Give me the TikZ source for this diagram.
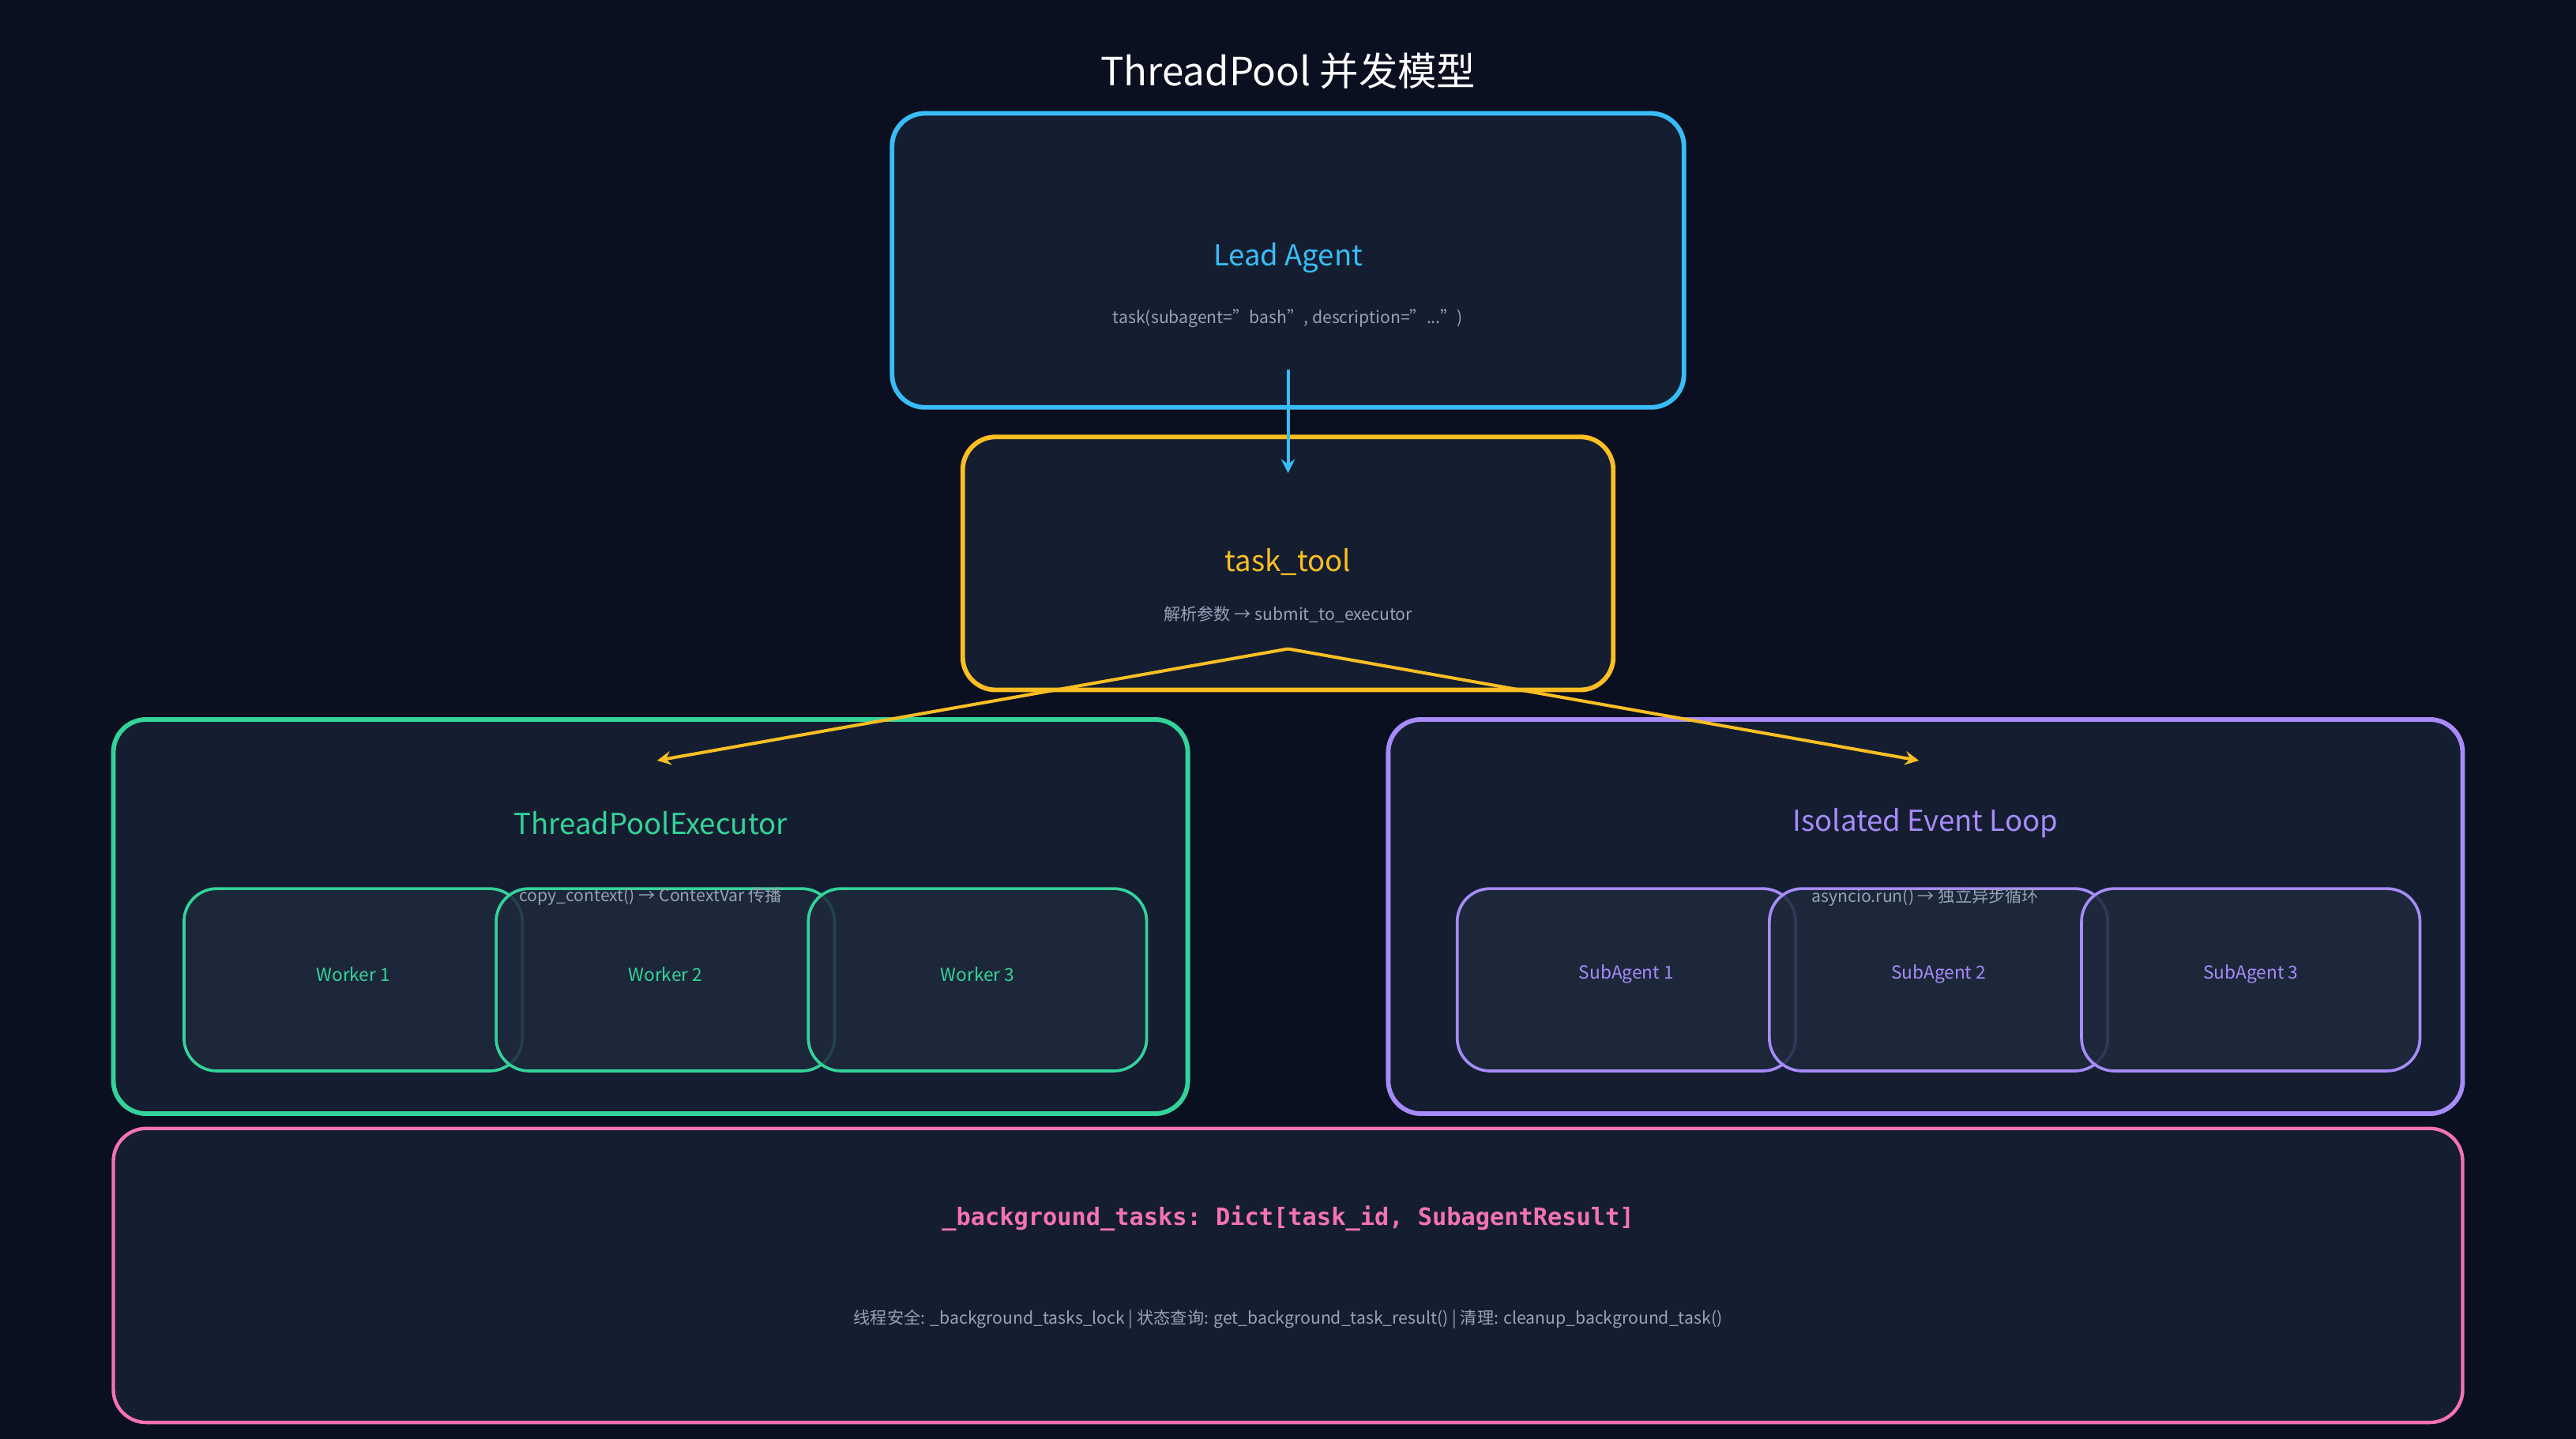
\documentclass[tikz,border=0pt]{standalone}
\usepackage{fontspec}
\setmainfont{Noto Sans CJK SC}
\setmonofont{DejaVu Sans Mono}
\usetikzlibrary{arrows,positioning}
\definecolor{bgdark}{HTML}{0B1020}
\definecolor{boxfill}{HTML}{151E30}
\definecolor{workfill}{HTML}{1E293B}
\definecolor{leadc}{HTML}{38BDF8}
\definecolor{toolc}{HTML}{FBBF24}
\definecolor{poolc}{HTML}{34D399}
\definecolor{loopc}{HTML}{A78BFA}
\definecolor{storec}{HTML}{F472B6}
\definecolor{subtxt}{HTML}{94A3B8}
\begin{document}
\begin{tikzpicture}
[x=0.02cm, y=-0.02cm, >=stealth, semithick,
box/.style={line width=1.6pt, fill=boxfill, rounded corners=0.4cm},
worker/.style={line width=1pt, fill=workfill, fill opacity=0.85, rounded corners=0.4cm},
title/.style={font=\fontsize{10}{12}\selectfont},
note/.style={text=subtxt, font=\fontsize{5.8}{7}\selectfont},
wlabel/.style={font=\fontsize{6.2}{7}\selectfont},
flow/.style={->, line width=1.1pt}
]
  \fill[bgdark] (0,0) rectangle (1568,876);
  \node[text=white, font=\fontsize{13.5}{16}\selectfont] (head) at (784,43) {ThreadPool 并发模型};

  % lead agent
  \draw[box, draw=leadc] (543,69) rectangle (1025,248);
  \node[title, text=leadc] (lead) at (784,157) {Lead Agent};
  \node[note] (leadcall) at (784,194) {task(subagent="bash", description="...")};
  \coordinate (leadout) at (784,225);

  % task tool
  \draw[box, draw=toolc] (586,266) rectangle (982,420);
  \coordinate (toolin) at (784,288);
  \node[title, text=toolc] (tool) at (784,342) {task\_tool};
  \node[note] (toolnote) at (784,374) {解析参数 → submit\_to\_executor};
  \coordinate (toolout) at (784,395);

  % executor
  \draw[box, draw=poolc] (69,438) rectangle (723,678);
  \coordinate (poolin) at (400,463);
  \node[title, text=poolc] (pool) at (396,501) {ThreadPoolExecutor};
  \foreach \i/\x in {1/112, 2/302, 3/492} {
    \draw[worker, draw=poolc] (\x,541) rectangle ++(206,111);
    \node[wlabel, text=poolc] (w\i) at (\x+103,593) {Worker \i};
  }
  \node[note] (ctx) at (396,546) {copy\_context() → ContextVar 传播};

  % event loop
  \draw[box, draw=loopc] (845,438) rectangle (1499,678);
  \coordinate (loopin) at (1168,463);
  \node[title, text=loopc] (loop) at (1172,501) {Isolated Event Loop};
  \foreach \i/\x in {1/887, 2/1077, 3/1267} {
    \draw[worker, draw=loopc] (\x,541) rectangle ++(206,111);
    \node[wlabel, text=loopc] (s\i) at (\x+103,593) {SubAgent \i};
  }
  \node[note] (aio) at (1172,546) {asyncio.run() → 独立异步循环};

  % store
  \draw[box, draw=storec, line width=1.2pt] (69,687) rectangle (1499,866);
  \node[text=storec, font=\ttfamily\bfseries\fontsize{8.3}{10}\selectfont] (store) at (784,742) {\_background\_tasks: Dict[task\_id, SubagentResult]};
  \node[note] (storenote) at (784,803) {线程安全: \_background\_tasks\_lock | 状态查询: get\_background\_task\_result() | 清理: cleanup\_background\_task()};

  \draw[flow, leadc] (leadout) -- (toolin);
  \draw[flow, toolc] (toolout) -- (poolin);
  \draw[flow, toolc] (toolout) -- (loopin);
\end{tikzpicture}
\end{document}
